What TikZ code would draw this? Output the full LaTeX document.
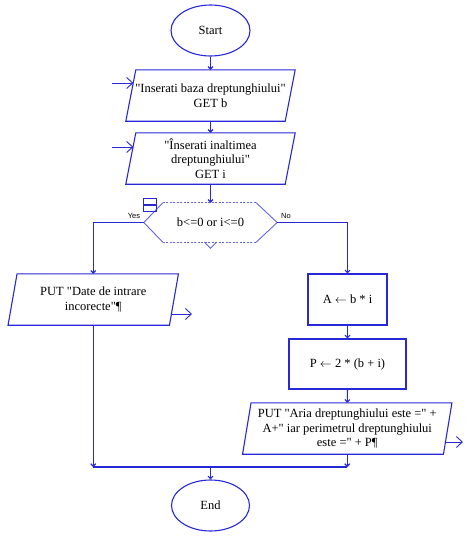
\documentclass[tikz,border=0pt]{standalone}
\usepackage{fontspec}
\setmainfont{Liberation Serif}[Ligatures=TeXOff]
\newfontfamily\labfont{Liberation Sans}
\usetikzlibrary{shapes.geometric,arrows.meta,calc}
\definecolor{fc}{RGB}{40,40,215}
\definecolor{dc}{RGB}{100,100,225}
\newcommand\dquo{\char34\relax}
\begin{document}
\begin{tikzpicture}[x=1pt,y=-1pt,
  every node/.style={font=\fontsize{12.5}{14.5}\selectfont, inner sep=0pt, align=center},
  ln/.style={draw=fc, line width=1.1pt},
  con/.style={ln, -{Straight Barb[length=2.5pt,width=5pt]}},
  io/.style={draw=fc, line width=0.9pt, -{Straight Barb[length=6pt,width=11pt]}},
  term/.style={ellipse, draw=fc, line width=1.1pt, minimum width=79pt, minimum height=51pt},
  proc/.style={rectangle, draw=fc, line width=1.2pt},
  txtbox/.style={rectangle, draw=none},
  lab/.style={font=\labfont\fontsize{7.5}{9}\selectfont}
]
\useasboundingbox (0,0) rectangle (474,536);

% terminals
\node[term] (start) at (210.5,30.5) {Start};
\node[term, minimum width=78pt] (end) at (210.5,505.5) {End};

% input 1
\node[txtbox, minimum width=159pt, minimum height=51pt] (p1) at (210.5,95.5) {\dquo Inserati baza dreptunghiului\dquo\\GET b};
\draw[ln] ([xshift=5pt]p1.north west) -- ([xshift=5pt]p1.north east) -- ([xshift=-5pt]p1.south east) -- ([xshift=-5pt]p1.south west) -- cycle;

% input 2
\node[txtbox, minimum width=159pt, minimum height=51pt] (p2) at (210.5,158.5) {\dquo Înserati inaltimea\\dreptunghiului\dquo\\GET i};
\draw[ln] ([xshift=5pt]p2.north west) -- ([xshift=5pt]p2.north east) -- ([xshift=-5pt]p2.south east) -- ([xshift=-5pt]p2.south west) -- cycle;

% decision
\node[txtbox, minimum width=133pt, minimum height=39pt] (dec) at (210.5,222.5) {b<=0 or i<=0};
\draw[dc, line width=0.8pt, dash pattern=on 2pt off 1.5pt] ([xshift=19pt]dec.north west) -- ([xshift=-21pt]dec.north east);
\draw[dc, line width=0.8pt, dash pattern=on 2pt off 1.5pt] ([xshift=19pt]dec.south west) -- ([xshift=-21pt]dec.south east);
\draw[dc, line width=0.9pt] ([xshift=19pt]dec.north west) -- (dec.west) -- ([xshift=19pt]dec.south west);
\draw[dc, line width=0.9pt] ([xshift=-21pt]dec.north east) -- (dec.east) -- ([xshift=-21pt]dec.south east);
\draw[dc, line width=0.9pt] ([xshift=-6pt]dec.south) -- ([yshift=-6pt]dec.south) -- ([xshift=6pt]dec.south);
\node[draw=fc, line width=1.2pt, minimum width=13pt, minimum height=13pt] (icon) at (150,205) {};
\draw[fc, line width=1.1pt] (icon.west) -- (icon.east);
\node[lab] (yes) at (134,216) {Yes};
\node[lab] (no) at (286,216) {No};

% left branch
\node[txtbox, minimum width=161pt, minimum height=51pt] (lp) at (93.25,299.5) {PUT \dquo Date de intrare\\incorecte\dquo¶};
\draw[ln] ([xshift=4.5pt]lp.north west) -- ([xshift=4.5pt]lp.north east) -- ([xshift=-4.5pt]lp.south east) -- ([xshift=-4.5pt]lp.south west) -- cycle;

% right branch
\node[proc, minimum width=79pt, minimum height=51pt] (A) at (347.5,299.5) {A $\leftarrow$ b * i};
\node[proc, minimum width=117pt, minimum height=50pt] (P) at (347.5,364) {P $\leftarrow$ 2 * (b + i)};
\node[txtbox, minimum width=200.5pt, minimum height=51pt] (p3) at (347.25,428.5) {PUT \dquo Aria dreptunghiului este =\dquo{} +\\A+\dquo{} iar perimetrul dreptunghiului\\este =\dquo{} + P¶};
\draw[ln] ([xshift=4.25pt]p3.north west) -- ([xshift=4.25pt]p3.north east) -- ([xshift=-4.25pt]p3.south east) -- ([xshift=-4.25pt]p3.south west) -- cycle;

% connectors
\draw[con] (start.south) -- (p1.north);
\draw[con] (p1.south) -- (p2.north);
\draw[con] (p2.south) -- (dec.north);
\draw[con] (dec.west) -| (lp.north);
\draw[con] (dec.east) -| (A.north);
\draw[con] (A.south) -- (P.north);
\draw[con] (P.south) -- (p3.north);
\coordinate (m) at (210.5,467);
\draw[con] (lp.south) -- (lp.south |- m);
\draw[con] (p3.south) -- (p3.south |- m);
\draw[ln] (lp.south |- m) -- (p3.south |- m);
\draw[con] (m) -- (end.north);

% io arrows
\coordinate (in1) at (112,83);
\draw[io] (in1) -- ([xshift=2.5pt]p1.west |- in1);
\coordinate (in2) at (112,147);
\draw[io] (in2) -- ([xshift=2.5pt]p2.west |- in2);
\coordinate (out1) at (192,314);
\draw[io] ([xshift=-2.5pt]lp.east |- out1) -- (out1);
\coordinate (out2) at (463,442);
\draw[io] ([xshift=-2.5pt]p3.east |- out2) -- (out2);
\end{tikzpicture}
\end{document}
